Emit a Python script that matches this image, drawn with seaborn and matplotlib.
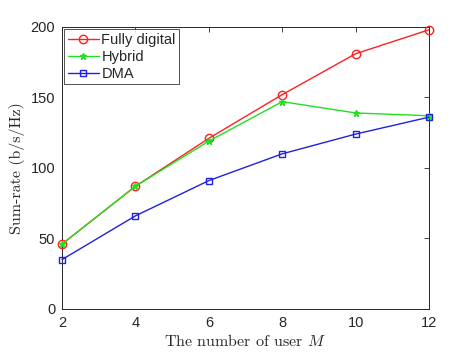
import numpy as np
import pandas as pd
import matplotlib
matplotlib.use('Agg')
import matplotlib.pyplot as plt
import seaborn as sns

users = [2, 4, 6, 8, 10, 12]
fully_digital = [46, 87, 121, 152, 181, 198]
hybrid = [46, 87, 119, 147, 139, 137]
dma = [35, 66, 91, 110, 124, 136]

sns.set_style('white')
plt.rcParams['font.family'] = ['Liberation Sans', 'DejaVu Sans']
plt.rcParams['mathtext.fontset'] = 'cm'

fig = plt.figure(figsize=(4.74, 3.55), dpi=100)
ax = fig.add_axes([0.131, 0.130, 0.774, 0.794])

series = [
    ('Fully digital', fully_digital, '#FF2020', 'o', 'none', 6),
    ('Hybrid', hybrid, '#20E020', '*', '#20E020', 5),
    ('DMA', dma, '#2020E0', 's', 'none', 5),
]
for name, vals, col, mk, mfc, ms in series:
    df = pd.DataFrame({'M': users, 'rate': vals})
    sns.lineplot(data=df, x='M', y='rate', ax=ax, color=col, marker=mk,
                 markerfacecolor=mfc, markeredgecolor=col, markersize=ms,
                 markeredgewidth=1.0, linewidth=1.0, label=name, clip_on=False,
                 zorder=3)

ax.set_xlim(2, 12)
ax.set_ylim(0, 200)
ax.set_xticks([2, 4, 6, 8, 10, 12])
ax.set_yticks([0, 50, 100, 150, 200])
ax.tick_params(direction='in', top=True, right=True, length=3.5, width=0.6,
               labelsize=10.5, colors='#262626', pad=5)
for s in ax.spines.values():
    s.set_color('#262626')
    s.set_linewidth(0.7)

ax.set_xlabel('The number of user $M$', fontfamily='cmr10', fontsize=11.5, labelpad=2)
ax.set_ylabel('Sum-rate (b/s/Hz)', fontfamily='cmr10', fontsize=11.5, labelpad=4)

leg = ax.legend(loc='upper left', frameon=True, fancybox=False, fontsize=10.5,
                borderaxespad=0.15, handlelength=2.1, handletextpad=0.2,
                borderpad=0.25, labelspacing=0.2)
leg.get_frame().set_edgecolor('#262626')
leg.get_frame().set_linewidth(0.7)
leg.set_zorder(5)

fig.savefig('out.png', dpi=100)
